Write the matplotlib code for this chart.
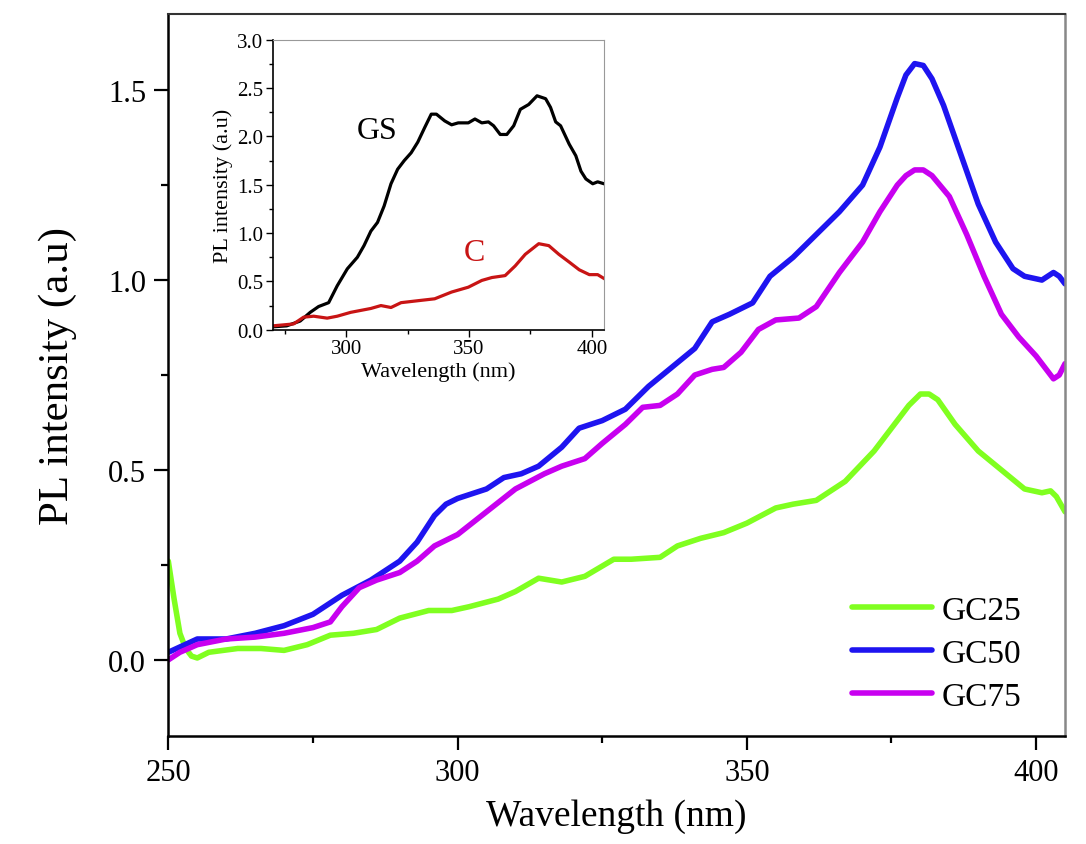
import matplotlib
matplotlib.use("Agg")
import matplotlib.pyplot as plt
from matplotlib.ticker import MultipleLocator, FormatStrFormatter

plt.rcParams['font.family'] = ['Liberation Serif', 'DejaVu Serif']

# ---- main data ----
gc25_x = [250, 251, 252, 253, 254, 255, 257, 262, 266, 270, 274, 278, 282, 286, 290, 295, 299, 302,
          307, 310, 314, 318, 322, 327, 330, 335, 338, 342, 346, 350, 355, 358, 362, 367, 372, 376,
          378, 380, 381.5, 383, 386, 390, 394, 398, 401, 402.5, 403.5, 405]
gc25_y = [0.26, 0.16, 0.07, 0.03, 0.01, 0.005, 0.02, 0.03, 0.03, 0.025, 0.04, 0.065, 0.07, 0.08, 0.11,
          0.13, 0.13, 0.14, 0.16, 0.18, 0.215, 0.205, 0.22, 0.265, 0.265, 0.27, 0.30, 0.32, 0.335,
          0.36, 0.40, 0.41, 0.42, 0.47, 0.55, 0.63, 0.67, 0.70, 0.70, 0.685, 0.62, 0.55, 0.50, 0.45,
          0.44, 0.445, 0.43, 0.39]

gc50_x = [250, 255, 260, 265, 270, 275, 280, 285, 290, 293, 296, 298, 300, 305, 308, 311, 314, 318,
          321, 325, 329, 333, 337, 341, 344, 347, 351, 354, 358, 362, 366, 370, 373, 376, 377.5,
          379, 380.5, 382, 384, 387, 390, 393, 396, 398, 401, 403, 404, 405]
gc50_y = [0.02, 0.055, 0.055, 0.07, 0.09, 0.12, 0.17, 0.21, 0.26, 0.31, 0.38, 0.41, 0.425, 0.45,
          0.48, 0.49, 0.51, 0.56, 0.61, 0.63, 0.66, 0.72, 0.77, 0.82, 0.89, 0.91, 0.94, 1.01, 1.06,
          1.12, 1.18, 1.25, 1.35, 1.48, 1.54, 1.57, 1.565, 1.53, 1.46, 1.33, 1.20, 1.10, 1.03, 1.01,
          1.00, 1.02, 1.01, 0.99]

gc75_x = [250, 252, 255, 260, 265, 270, 275, 278, 280, 283, 286, 290, 293, 296, 300, 305, 310, 315,
          318, 322, 325, 329, 332, 335, 338, 341, 344, 346, 349, 352, 355, 359, 362, 366, 370, 373,
          376, 377.5, 379, 380.5, 382, 385, 388, 391, 394, 397, 400, 402, 403, 404, 405]
gc75_y = [0.0, 0.02, 0.04, 0.055, 0.06, 0.07, 0.085, 0.10, 0.14, 0.19, 0.21, 0.23, 0.26, 0.30, 0.33,
          0.39, 0.45, 0.49, 0.51, 0.53, 0.57, 0.62, 0.665, 0.67, 0.70, 0.75, 0.765, 0.77, 0.81, 0.87,
          0.895, 0.90, 0.93, 1.02, 1.10, 1.18, 1.25, 1.275, 1.29, 1.29, 1.275, 1.22, 1.12, 1.01, 0.91,
          0.85, 0.80, 0.76, 0.74, 0.75, 0.78]

# ---- inset data ----
gs_x = [270, 275.7, 281.2, 285.3, 288.7, 292.8, 296.3, 300.4, 304.5, 307.2, 310, 312.7, 315.4, 318.2,
        320.9, 323.6, 326.4, 329.1, 331.9, 334.6, 336.7, 340.1, 342.9, 345.6, 349.7, 352.4, 355.2,
        357.9, 360, 362.7, 365.4, 368.2, 370.9, 374.3, 377.7, 381.2, 383.2, 385.3, 387.3, 390.8,
        393.5, 395.6, 397.6, 400.4, 402.4, 405]
gs_y = [0.03, 0.04, 0.09, 0.18, 0.24, 0.28, 0.455, 0.63, 0.75, 0.87, 1.02, 1.11, 1.28, 1.51, 1.66,
        1.75, 1.83, 1.94, 2.09, 2.23, 2.23, 2.16, 2.12, 2.14, 2.14, 2.18, 2.14, 2.15, 2.11, 2.02,
        2.02, 2.11, 2.28, 2.33, 2.42, 2.39, 2.30, 2.15, 2.11, 1.92, 1.80, 1.64, 1.56, 1.51, 1.53, 1.51]

c_x = [270, 278.5, 282.6, 286.7, 292.2, 296.3, 301.8, 310, 314.1, 318.2, 322.3, 329.1, 336, 342.9,
       349.7, 355.2, 359.3, 364.7, 368.8, 372.9, 378.4, 382.5, 386.6, 390.8, 394.9, 399, 402.4, 405]
c_y = [0.04, 0.06, 0.13, 0.14, 0.12, 0.14, 0.18, 0.22, 0.25, 0.23, 0.28, 0.30, 0.32, 0.39, 0.44,
       0.51, 0.54, 0.56, 0.66, 0.78, 0.89, 0.87, 0.78, 0.70, 0.62, 0.57, 0.57, 0.53]

fig = plt.figure(figsize=(10.86, 8.45), dpi=100)
ax = fig.add_axes([0.155, 0.128, 0.8257, 0.854])

ax.plot(gc25_x, gc25_y, color='#80ff20', lw=4.0, label='GC25', solid_capstyle='round', solid_joinstyle='round')
ax.plot(gc50_x, gc50_y, color='#1e14f0', lw=4.0, label='GC50', solid_capstyle='round', solid_joinstyle='round')
ax.plot(gc75_x, gc75_y, color='#c800f0', lw=4.0, label='GC75', solid_capstyle='round', solid_joinstyle='round')

ax.set_xlim(250, 405)
ax.set_ylim(-0.2, 1.7)
ax.xaxis.set_major_locator(MultipleLocator(50))
ax.xaxis.set_minor_locator(MultipleLocator(25))
ax.yaxis.set_major_locator(MultipleLocator(0.5))
ax.yaxis.set_minor_locator(MultipleLocator(0.25))
ax.yaxis.set_major_formatter(FormatStrFormatter('%.1f'))
ax.tick_params(which='major', direction='out', length=10, width=1.6, labelsize=22, pad=6)
ax.tick_params(which='minor', direction='out', length=5, width=1.6)
ax.tick_params(top=False, right=False)
ax.spines['left'].set_linewidth(1.8)
ax.spines['bottom'].set_linewidth(1.8)
ax.spines['top'].set_linewidth(1.5)
ax.spines['top'].set_color('#333333')
ax.spines['right'].set_linewidth(1.8)
ax.spines['right'].set_color('#888888')
ax.set_xlabel('Wavelength (nm)', fontsize=27, labelpad=8)
ax.set_ylabel('PL intensity (a.u)', fontsize=31, labelpad=22)

leg = ax.legend(loc='lower right', bbox_to_anchor=(0.985, -0.008), frameon=False, fontsize=24,
                handlelength=2.4, handletextpad=0.3, labelspacing=0.37)

# ---- inset ----
ins = fig.add_axes([0.2511, 0.6086, 0.3051, 0.3432])
ins.plot(gs_x, gs_y, color='black', lw=2.3, solid_joinstyle='round')
ins.plot(c_x, c_y, color='#c81414', lw=2.3, solid_joinstyle='round')
ins.set_xlim(270, 405)
ins.set_ylim(0, 3.0)
ins.xaxis.set_major_locator(MultipleLocator(50))
ins.xaxis.set_minor_locator(MultipleLocator(25))
ins.yaxis.set_major_locator(MultipleLocator(0.5))
ins.yaxis.set_minor_locator(MultipleLocator(0.25))
ins.yaxis.set_major_formatter(FormatStrFormatter('%.1f'))
ins.tick_params(which='major', direction='out', length=5, width=1.0, labelsize=15, pad=2)
ins.tick_params(which='minor', direction='out', length=3, width=1.0)
ins.spines['top'].set_color('#999999')
ins.spines['right'].set_color('#999999')
ins.spines['left'].set_linewidth(1.2)
ins.spines['bottom'].set_linewidth(1.2)
ins.set_xlabel('Wavelength (nm)', fontsize=16, labelpad=2)
ins.set_ylabel('PL intensity (a.u)', fontsize=16, labelpad=3)
ins.text(312.4, 2.06, 'GS', fontsize=23, color='black', ha='center', va='center')
ins.text(352, 0.80, 'C', fontsize=23, color='#c81414', ha='center', va='center')

fig.savefig('out.png', dpi=100)
